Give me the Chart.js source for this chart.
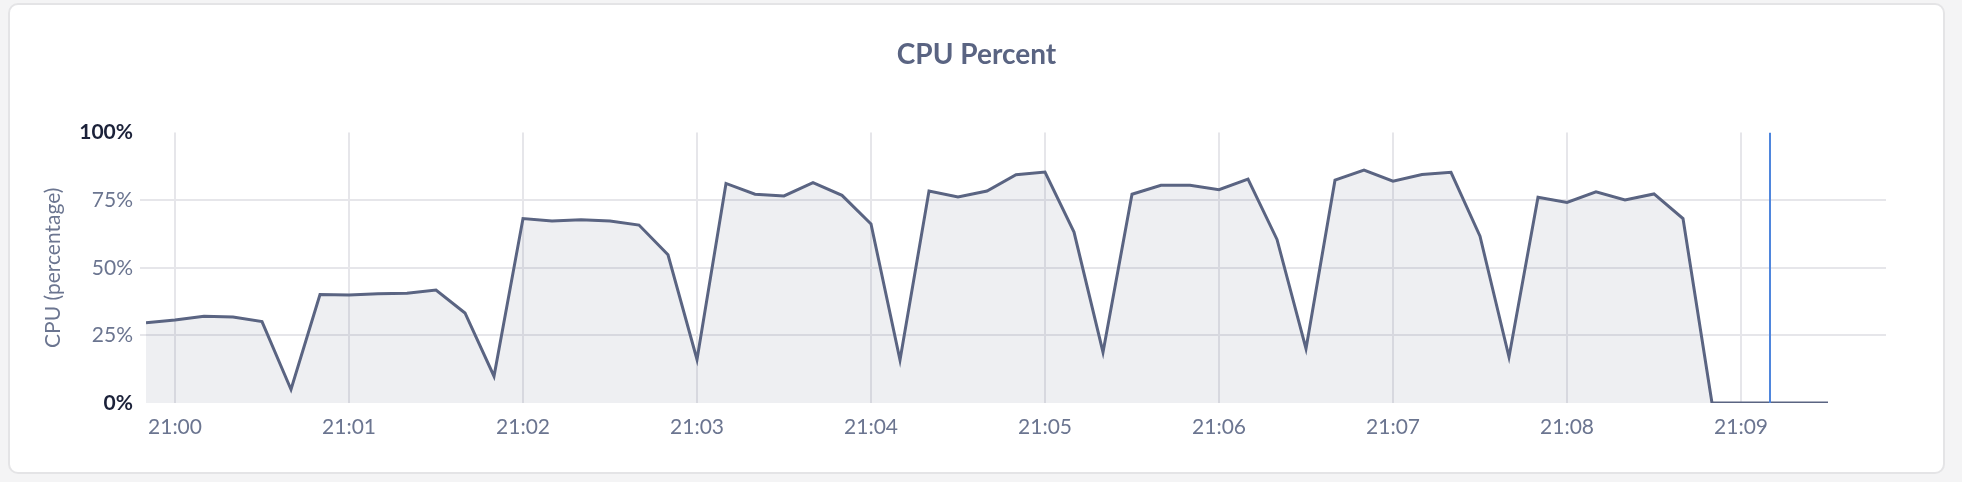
<!DOCTYPE html>
<html>
<head>
<meta charset="utf-8">
<script src="https://cdn.jsdelivr.net/npm/chart.js@4.4.1/dist/chart.umd.min.js"></script>
<style>
  html, body { margin: 0; padding: 0; background: #f4f4f5; }
  body { width: 1962px; height: 482px; position: relative; overflow: hidden; }
  #card {
    position: absolute; left: 8px; top: 3px; width: 1937px; height: 471px;
    box-sizing: border-box; border: 2px solid #e4e4e6; border-radius: 10px; background: #fff;
  }
  #wrap { position: absolute; left: 0; top: 0; width: 1933px; height: 467px; }
</style>
</head>
<body>
<div id="card"><div id="wrap"><canvas id="cpuChart"></canvas></div></div>
<script>
// samples every 10 s
let times = ['20:59:50', '21:00:00', '21:00:10', '21:00:20', '21:00:30', '21:00:40', '21:00:50',
  '21:01:00', '21:01:10', '21:01:20', '21:01:30', '21:01:40', '21:01:50',
  '21:02:00', '21:02:10', '21:02:20', '21:02:30', '21:02:40', '21:02:50',
  '21:03:00', '21:03:10', '21:03:20', '21:03:30', '21:03:40', '21:03:50',
  '21:04:00', '21:04:10', '21:04:20', '21:04:30', '21:04:40', '21:04:50',
  '21:05:00', '21:05:10', '21:05:20', '21:05:30', '21:05:40', '21:05:50',
  '21:06:00', '21:06:10', '21:06:20', '21:06:30', '21:06:40', '21:06:50',
  '21:07:00', '21:07:10', '21:07:20', '21:07:30', '21:07:40', '21:07:50',
  '21:08:00', '21:08:10', '21:08:20', '21:08:30', '21:08:40', '21:08:50',
  '21:09:00', '21:09:10', '21:09:20', '21:09:30'];
let cpu = [29.7, 30.7, 32.1, 31.8, 30.1, 5.0, 40.1,
  39.9, 40.4, 40.6, 41.8, 33.3, 9.9,
  68.2, 67.3, 67.8, 67.3, 65.8, 54.8,
  16.1, 81.2, 77.2, 76.6, 81.5, 76.8,
  66.2, 15.9, 78.4, 76.2, 78.4, 84.4,
  85.4, 63.2, 18.8, 77.2, 80.5, 80.5,
  78.9, 82.8, 60.5, 20.1, 82.4, 86.1,
  82.0, 84.5, 85.3, 61.7, 17.0, 76.1,
  74.2, 78.1, 75.1, 77.3, 68.2, 0,
  0, 0, 0, 0];
let xTicks = ['21:00', '21:01', '21:02', '21:03', '21:04', '21:05', '21:06', '21:07', '21:08', '21:09'];
let xRange = ['20:59:50', '21:09:50'];
let markerTime = '21:09:10';
let yTicks = [0, 25, 50, 75, 100];

function secs(t) {
  let p = t.split(':').map(Number);
  return p[0] * 3600 + p[1] * 60 + (p[2] || 0);
}

let grey = '#6b7590';
let dark = '#1b2139';
let slate = '#5a6482';

// 0% and 100% get the bold dark label and no grid line
function isEnd(c) {
  return !!(c.tick && (c.tick.value === 0 || c.tick.value === 100));
}

let points = times.map((t, i) => ({ x: secs(t), y: cpu[i] }));
let marker = [{ x: secs(markerTime), y: 0 }, { x: secs(markerTime), y: 100 }];

let ctx = document.getElementById('cpuChart').getContext('2d');
let chart = new Chart(ctx, {
  type: 'line',
  data: {
    datasets: [{
      data: marker,
      borderColor: '#4f86dd',
      borderWidth: 2,
      pointRadius: 0,
      fill: false,
      order: 0
    }, {
      data: points,
      borderColor: slate,
      backgroundColor: 'rgba(90,100,130,0.1)',
      borderWidth: 3,
      pointRadius: 0,
      tension: 0,
      fill: 'origin',
      order: 1
    }]
  },
  options: {
    responsive: true,
    maintainAspectRatio: false,
    animation: false,
    // same padding both sides so the title stays centred on the card
    layout: { padding: { left: 27, right: 27, top: 20, bottom: 0 } },
    plugins: {
      legend: { display: false },
      tooltip: { enabled: false },
      title: {
        display: true,
        text: 'CPU Percent',
        color: slate,
        font: { family: 'Lato', size: 28, weight: 'bold' },
        padding: { top: 13, bottom: 61 }
      }
    },
    scales: {
      x: {
        type: 'linear',
        min: secs(xRange[0]),
        max: secs(xRange[1]),
        afterBuildTicks: s => { s.ticks = xTicks.map(t => ({ value: secs(t) })); },
        afterFit: s => { s.height = 69; },
        border: { display: false },
        grid: { color: '#e6e6ea', lineWidth: 2, drawTicks: false },
        ticks: {
          color: grey,
          font: { family: 'Lato', size: 21 },
          padding: 12,
          maxRotation: 0,
          autoSkip: false,
          callback: (v, i) => xTicks[i]
        }
      },
      y: {
        min: 0,
        max: 100,
        afterBuildTicks: s => { s.ticks = yTicks.map(v => ({ value: v })); },
        afterFit: s => { s.width = 109; },
        border: { display: false },
        grid: {
          color: c => isEnd(c) ? 'rgba(0,0,0,0)' : '#e6e6ea',
          lineWidth: 2,
          tickLength: 6
        },
        ticks: {
          padding: 7,
          color: c => isEnd(c) ? dark : grey,
          font: c => ({ family: 'Lato', size: 21, weight: isEnd(c) ? 'bold' : 'normal' }),
          callback: v => v + '%'
        },
        title: {
          display: true,
          text: 'CPU (percentage)',
          color: grey,
          font: { family: 'Lato', size: 21 }
        }
      },
      // empty spacer on the right
      yRight: {
        position: 'right',
        display: true,
        min: 0,
        max: 100,
        afterFit: s => { s.width = 30; },
        border: { display: false },
        grid: { display: false },
        ticks: { display: false }
      }
    }
  }
});
</script>
</body>
</html>
